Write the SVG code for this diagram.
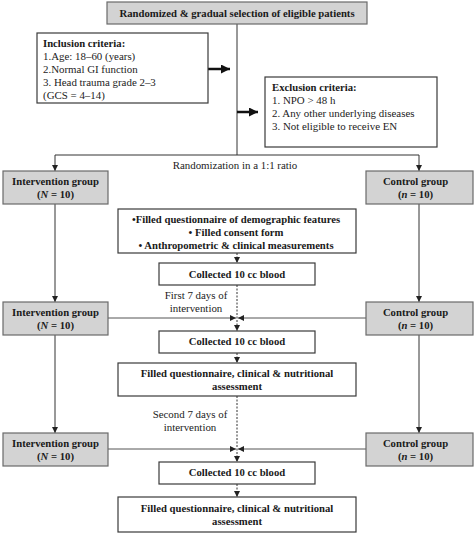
<svg xmlns="http://www.w3.org/2000/svg" width="474" height="534" viewBox="0 0 474 534">
<defs>
<style>
.g{fill:#d3d3d3;stroke:#6a6a6a;stroke-width:1.2}
.w{fill:#fff;stroke:#3a3a3a;stroke-width:1.2}
.b{font-family:"Liberation Serif","Times New Roman",serif;font-weight:bold;font-size:10.7px;fill:#1a1a1a}
.r{font-family:"Liberation Serif","Times New Roman",serif;font-size:10.9px;fill:#222}
.c{text-anchor:middle}
.ln{fill:none;stroke:#333;stroke-width:1}
.hl{fill:none;stroke:#555;stroke-width:1}
.dt{fill:none;stroke:#333;stroke-width:1;stroke-dasharray:2 1.5}
.th{fill:none;stroke:#111;stroke-width:2.5}
</style>
<marker id="a" viewBox="0 0 10 10" refX="10" refY="5" markerWidth="6" markerHeight="6" markerUnits="userSpaceOnUse" orient="auto"><path d="M0,0L10,5L0,10z" fill="#222"/></marker>
<marker id="ab" viewBox="0 0 10 10" refX="10" refY="5" markerWidth="9" markerHeight="9" markerUnits="userSpaceOnUse" orient="auto"><path d="M0,0L10,5L0,10z" fill="#111"/></marker>
</defs>

<g id="connectors">
<path class="ln" d="M237,24V155"/>
<path class="th" d="M208,69H230" marker-end="url(#ab)"/>
<path class="th" d="M237,112H258" marker-end="url(#ab)"/>
<path class="ln" d="M55,155H419"/>
<path class="ln" d="M55,155V171" marker-end="url(#a)"/>
<path class="ln" d="M419,155V171" marker-end="url(#a)"/>
<path class="ln" d="M55,204V302" marker-end="url(#a)"/>
<path class="ln" d="M419,204V302" marker-end="url(#a)"/>
<path class="ln" d="M55,335V433" marker-end="url(#a)"/>
<path class="ln" d="M419,335V433" marker-end="url(#a)"/>
<path class="hl" d="M108,318H236" marker-end="url(#a)"/>
<path class="hl" d="M366,318H238" marker-end="url(#a)"/>
<path class="hl" d="M108,449H236" marker-end="url(#a)"/>
<path class="hl" d="M366,449H238" marker-end="url(#a)"/>
<path class="dt" d="M237,253V263" marker-end="url(#a)"/>
<path class="dt" d="M237,285V331" marker-end="url(#a)"/>
<path class="dt" d="M237,353V363" marker-end="url(#a)"/>
<path class="dt" d="M237,396V462" marker-end="url(#a)"/>
<path class="dt" d="M237,484V497" marker-end="url(#a)"/>
<text class="r c" x="235" y="169">Randomization in a 1:1 ratio</text>
<text class="r c" x="196" y="299">First 7 days of</text>
<text class="r c" x="196" y="312">intervention</text>
<text class="r c" x="190" y="418">Second 7 days of</text>
<text class="r c" x="190" y="431">intervention</text>
</g>

<g id="start">
<rect class="g" x="107" y="2" width="260" height="22"/>
<text class="b c" x="237" y="17">Randomized &amp; gradual selection of eligible patients</text>
</g>

<g id="inclusion">
<rect class="w" x="37" y="33" width="171" height="70"/>
<text class="b" x="43" y="47">Inclusion criteria:</text>
<text class="r" x="43" y="60">1.Age: 18–60 (years)</text>
<text class="r" x="43" y="73">2.Normal GI function</text>
<text class="r" x="43" y="86">3. Head trauma grade 2–3</text>
<text class="r" x="43" y="99">(GCS = 4–14)</text>
</g>

<g id="exclusion">
<rect class="w" x="265" y="77" width="172" height="70"/>
<text class="b" x="272" y="91">Exclusion criteria:</text>
<text class="r" x="272" y="104">1. NPO &gt; 48 h</text>
<text class="r" x="272" y="117">2. Any other underlying diseases</text>
<text class="r" x="272" y="130">3. Not eligible to receive EN</text>
</g>

<g id="int1">
<rect class="g" x="3" y="171" width="105" height="33"/>
<text class="b c" x="55.5" y="185">Intervention group</text>
<text class="b c" x="55.5" y="198">(<tspan font-style="italic">N</tspan> = 10)</text>
</g>
<g id="ctl1">
<rect class="g" x="366" y="171" width="107" height="33"/>
<text class="b c" x="415.5" y="185">Control group</text>
<text class="b c" x="415.5" y="198">(<tspan font-style="italic">n</tspan> = 10)</text>
</g>

<g id="baseline">
<rect class="w" x="118" y="209" width="238" height="44"/>
<text class="b c" x="236" y="223">•Filled questionnaire of demographic features</text>
<text class="b c" x="236" y="236">• Filled consent form</text>
<text class="b c" x="236" y="249">• Anthropometric &amp; clinical measurements</text>
</g>

<g id="blood1">
<rect class="w" x="159" y="263" width="156" height="22"/>
<text class="b c" x="237" y="278">Collected 10 cc blood</text>
</g>

<g id="int2">
<rect class="g" x="3" y="302" width="105" height="33"/>
<text class="b c" x="55.5" y="316">Intervention group</text>
<text class="b c" x="55.5" y="329">(<tspan font-style="italic">N</tspan> = 10)</text>
</g>
<g id="ctl2">
<rect class="g" x="366" y="302" width="107" height="33"/>
<text class="b c" x="415.5" y="316">Control group</text>
<text class="b c" x="415.5" y="329">(<tspan font-style="italic">n</tspan> = 10)</text>
</g>

<g id="blood2">
<rect class="w" x="159" y="331" width="156" height="22"/>
<text class="b c" x="237" y="345">Collected 10 cc blood</text>
</g>

<g id="assess1">
<rect class="w" x="118" y="363" width="238" height="33"/>
<text class="b c" x="237" y="377">Filled questionnaire, clinical &amp; nutritional</text>
<text class="b c" x="237" y="390">assessment</text>
</g>

<g id="int3">
<rect class="g" x="3" y="433" width="105" height="33"/>
<text class="b c" x="55.5" y="447">Intervention group</text>
<text class="b c" x="55.5" y="460">(<tspan font-style="italic">N</tspan> = 10)</text>
</g>
<g id="ctl3">
<rect class="g" x="366" y="433" width="107" height="33"/>
<text class="b c" x="415.5" y="447">Control group</text>
<text class="b c" x="415.5" y="460">(<tspan font-style="italic">n</tspan> = 10)</text>
</g>

<g id="blood3">
<rect class="w" x="159" y="462" width="156" height="22"/>
<text class="b c" x="237" y="476">Collected 10 cc blood</text>
</g>

<g id="assess2">
<rect class="w" x="118" y="497" width="238" height="35"/>
<text class="b c" x="237" y="512">Filled questionnaire, clinical &amp; nutritional</text>
<text class="b c" x="237" y="525">assessment</text>
</g>
</svg>
